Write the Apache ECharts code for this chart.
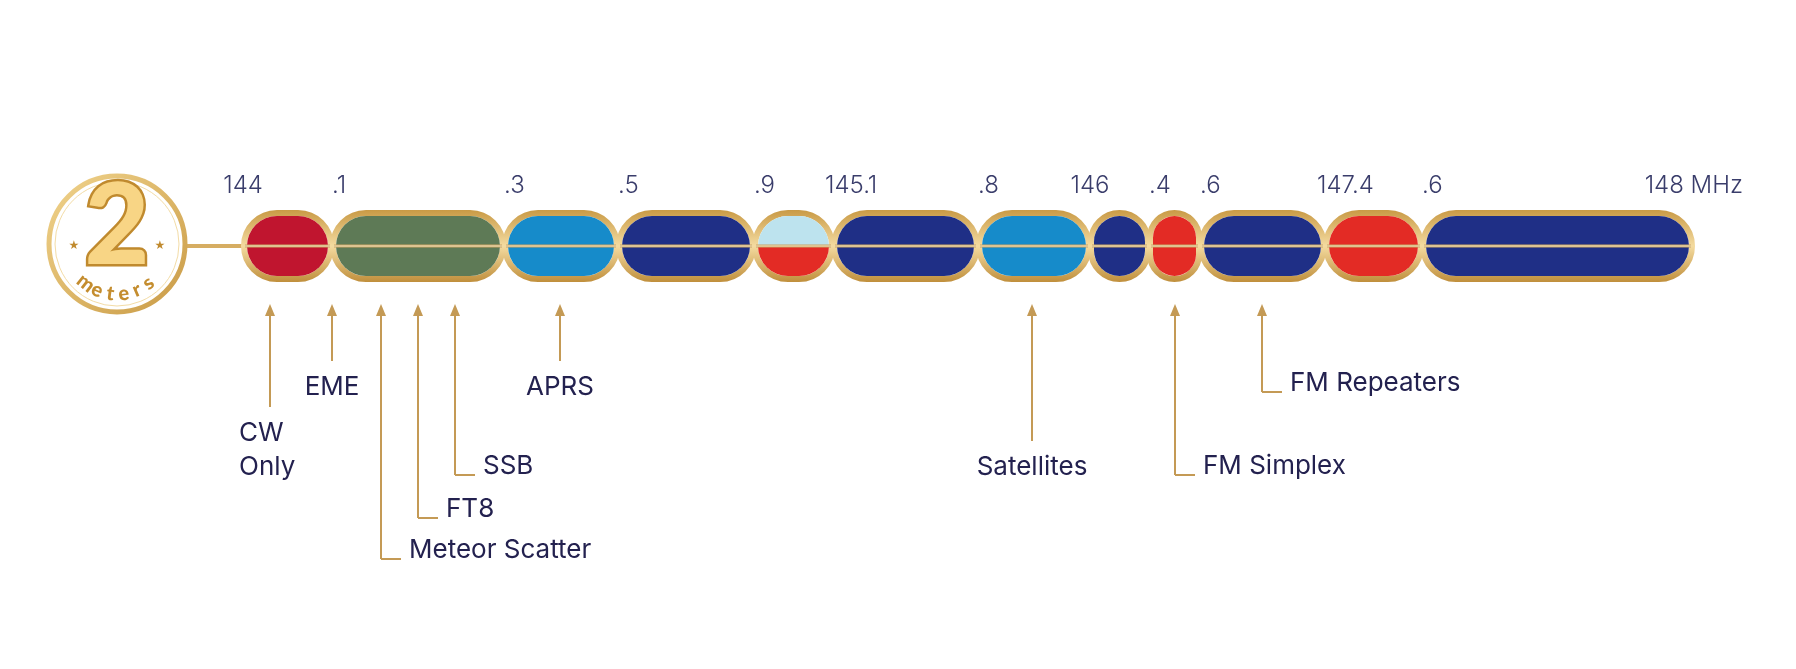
<!DOCTYPE html><html><head><meta charset="utf-8">
<script src="https://cdn.jsdelivr.net/npm/echarts@6/dist/echarts.min.js"></script>
<style>html,body{margin:0;background:#fff}#c{width:1796px;height:669px}</style></head><body><div id="c"></div><script>
// band segments (visual widths along the strip)
const segWidths=[89,172,114,136,79,145,112,59,51,125,97,271];
const segColors=[['#c0152f'],['#5e7a56'],['#168bca'],['#1f2f86'],['#bde3ee','#e32b25'],['#1f2f86'],['#168bca'],['#1f2f86'],['#e32b25'],['#1f2f86'],['#e32b25'],['#1f2f86']];
const tickLabels=['144','.1','.3','.5','.9','145.1','.8','146','.4','.6','147.4','.6'];
const endLabel='148 MHz';
// annotations: position along the strip, text
const annPos=[27,89,138,175,212,317,789,932,1019];
const annText=['CW\nOnly','EME','Meteor Scatter','FT8','SSB','APRS','Satellites','FM Simplex','FM Repeaters'];
// style: [kind, stem length px]
const annStyle=[['below',103],['below',57],['elbow',255],['elbow',214],['elbow',171],['below',57],['below',137],['elbow',171],['elbow',88]];

const starts=[];let acc=0;segWidths.forEach(w=>{starts.push(acc);acc+=w;});
const total=acc;
const segData=segWidths.map((w,i)=>[starts[i],starts[i]+w,i]);
const gold='#d6ad62', navyText='#23214f', arrowC='#c49a55';
const chart=echarts.init(document.getElementById('c'));
function seg(params,api){
  const i=api.value(2);
  const p0=api.coord([api.value(0),1]), p1=api.coord([api.value(1),0]);
  const x=p0[0]+2,y=p0[1],w=p1[0]-p0[0]-4,h=p1[1]-p0[1];
  const r=Math.min(h/2,w/2);
  const cols=segColors[i];const ch=[];
  ch.push({type:'rect',shape:{x:x-1,y:y-1,width:w+2,height:h+2,r:r+1},style:{fill:'none',stroke:{type:'linear',x:0,y:0,x2:0,y2:1,colorStops:[{offset:0,color:'#c99a45'},{offset:0.5,color:'#f4dba0'},{offset:1,color:'#c08f3c'}]},lineWidth:6}});
  if(cols.length===1){ch.push({type:'rect',shape:{x:x+2,y:y+2,width:w-4,height:h-4,r:r-2},style:{fill:cols[0]}});}
  else{ch.push({type:'rect',shape:{x:x+2,y:y+2,width:w-4,height:h/2-2,r:[r-2,r-2,0,0]},style:{fill:cols[0]}});
       ch.push({type:'rect',shape:{x:x+2,y:y+h/2,width:w-4,height:h/2-2,r:[0,0,r-2,r-2]},style:{fill:cols[1]}});}
  ch.push({type:'line',shape:{x1:x,y1:y+h/2,x2:x+w,y2:y+h/2},style:{stroke:'#c9a462',lineWidth:3}});
  ch.push({type:'line',shape:{x1:x,y1:y+h/2,x2:x+w,y2:y+h/2},style:{stroke:'#f3e3bf',lineWidth:1}});
  const lab=tickLabels[i];const bx=api.coord([api.value(0),1])[0];
  let lx=bx, align='left';
  if(lab.length===3&&lab[0]!=='.'){align='center';}
  else if(lab.length>3){lx=bx-8;}
  const tf='300 24px Inter';
  ch.push({type:'text',x:lx,y:y-16,style:{text:lab,fill:'#3a3d6b',font:tf,align:align,verticalAlign:'bottom'}});
  if(i===segWidths.length-1){ch.push({type:'text',x:p1[0]+50,y:y-16,style:{text:endLabel,fill:'#3a3d6b',font:tf,align:'right',verticalAlign:'bottom'}});}
  return {type:'group',children:ch};
}
function ann(params,api){
  const i=params.dataIndex;const p=api.coord([api.value(0),0]);
  const x=p[0],y0=p[1]+26,[kind,len]=annStyle[i];const ch=[];
  const yb=y0+len;
  ch.push({type:'line',shape:{x1:x,y1:y0+8,x2:x,y2:yb},style:{stroke:arrowC,lineWidth:2}});
  ch.push({type:'polygon',shape:{points:[[x,y0],[x-5,y0+12],[x+5,y0+12]]},style:{fill:arrowC}});
  const font='400 26px Inter';
  if(kind==='below'){
    const multi=annText[i].includes('\n');
    ch.push({type:'text',x:multi?x-31:x,y:yb+9,style:{text:annText[i],fill:navyText,font:font,align:multi?'left':'center',verticalAlign:'top',lineHeight:34}});
  }else{
    ch.push({type:'line',shape:{x1:x,y1:yb,x2:x+20,y2:yb},style:{stroke:arrowC,lineWidth:2}});
    ch.push({type:'text',x:x+28,y:yb-9,style:{text:annText[i],fill:navyText,font:font,align:'left',verticalAlign:'middle'}});
  }
  return {type:'group',children:ch};
}
const word='meters';const letters=[];
word.split('').forEach((c,k)=>{const a=Math.PI/2+(2.5-k)*0.27;const R=50;
 letters.push({type:'text',x:117+R*Math.cos(a),y:244+R*Math.sin(a),rotation:-(a-Math.PI/2),style:{text:c,font:'900 20px Lato',fill:'#c48d2f',align:'center',verticalAlign:'middle'}});});
chart.setOption({
  animation:false,
  grid:{left:243,right:103,top:214,height:64},
  xAxis:{type:'value',min:0,max:total,show:false},
  yAxis:{type:'value',min:0,max:1,show:false},
  graphic:[
    {type:'line',shape:{x1:185,y1:246,x2:246,y2:246},style:{stroke:gold,lineWidth:4}},
    {type:'circle',shape:{cx:117,cy:244,r:68},style:{fill:'#fff',stroke:{type:'linear',x:0,y:0,x2:1,y2:1,colorStops:[{offset:0,color:'#f1d48d'},{offset:1,color:'#c99a45'}]},lineWidth:5}},
    {type:'circle',shape:{cx:117,cy:244,r:62},style:{fill:'none',stroke:'#f3dca6',lineWidth:1}},
    {type:'text',x:117,y:228,style:{text:'2',font:'900 112px Lato',fill:'#f8d585',stroke:'#c08a2e',lineWidth:5,align:'center',verticalAlign:'middle'}},
    {type:'text',x:74,y:246,style:{text:'★',font:'12px DejaVu Sans',fill:'#c08a2e',align:'center',verticalAlign:'middle'}},
    {type:'text',x:160,y:246,style:{text:'★',font:'12px DejaVu Sans',fill:'#c08a2e',align:'center',verticalAlign:'middle'}},
    ...letters
  ],
  series:[
    {type:'custom',renderItem:seg,data:segData,encode:{x:[0,1]}},
    {type:'custom',renderItem:ann,data:annPos.map(v=>[v]),encode:{x:0}}
  ]
});
</script></body></html>
